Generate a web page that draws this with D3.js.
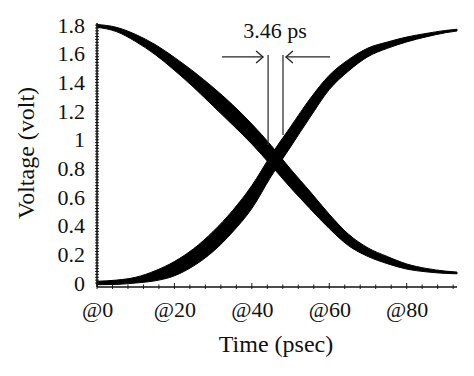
<!DOCTYPE html>
<html>
<head>
<meta charset="utf-8">
<script src="https://cdn.jsdelivr.net/npm/d3@7"></script>
<style>
  body { margin: 0; background: #fff; }
  text { font-family: "Liberation Serif", "DejaVu Serif", serif; fill: #111; }
</style>
</head>
<body>
<div id="chart"></div>
<script>
// time samples (ps)
var times = [0, 5, 10, 15, 20, 25, 30, 35, 40, 45, 50, 55, 60, 65, 70, 75, 80, 85, 90, 93];

// falling output: envelope of the traces (volt)
var fallUpper = [1.805, 1.785, 1.735, 1.665, 1.575, 1.475, 1.365, 1.245, 1.11, 0.96, 0.795, 0.64, 0.48, 0.34, 0.245, 0.185, 0.133, 0.102, 0.083, 0.076];
var fallLower = [1.785, 1.755, 1.685, 1.595, 1.485, 1.365, 1.235, 1.105, 0.97, 0.82, 0.665, 0.52, 0.38, 0.26, 0.185, 0.135, 0.097, 0.078, 0.067, 0.064];

// rising output
var riseUpper = [0.012, 0.02, 0.04, 0.085, 0.15, 0.24, 0.36, 0.505, 0.68, 0.895, 1.09, 1.285, 1.45, 1.56, 1.64, 1.682, 1.717, 1.742, 1.763, 1.771];
var riseLower = [-0.012, -0.01, 0.0, 0.015, 0.05, 0.12, 0.22, 0.355, 0.52, 0.745, 0.95, 1.155, 1.35, 1.48, 1.58, 1.638, 1.683, 1.718, 1.747, 1.759];

var yTicks = [0, 0.2, 0.4, 0.6, 0.8, 1, 1.2, 1.4, 1.6, 1.8];
var xTicks = [0, 20, 40, 60, 80];

// skew annotation
var skewLabel = "3.46 ps";
var skewTimes = [44.2, 48.05];      // the two marker lines
var skewBottoms = [0.964, 1.033];   // where each line meets the curve
var skewTop = 1.592;
var arrowY = 1.578;
var arrowTails = [32.3, 60.2];
var arrowTips = [42.9, 48.8];

var width = 474, height = 376;

var svg = d3.select("#chart")
  .append("svg")
    .attr("width", width)
    .attr("height", height);

var x = d3.scaleLinear()
  .domain([0, 93])
  .range([97, 457]);

var y = d3.scaleLinear()
  .domain([-0.028, 1.815])
  .range([287, 23]);

// bands
var data = times.map(function(t, i) {
  return {t: t, fu: fallUpper[i], fl: fallLower[i], ru: riseUpper[i], rl: riseLower[i]};
});

var fallArea = d3.area()
  .curve(d3.curveMonotoneX)
  .x(function(d) { return x(d.t); })
  .y0(function(d) { return y(d.fl); })
  .y1(function(d) { return y(d.fu); });

var riseArea = d3.area()
  .curve(d3.curveMonotoneX)
  .x(function(d) { return x(d.t); })
  .y0(function(d) { return y(d.rl); })
  .y1(function(d) { return y(d.ru); });

svg.append("path")
  .datum(data)
  .attr("d", fallArea)
  .attr("fill", "#000")
  .attr("stroke", "#000")
  .attr("stroke-width", 1);

svg.append("path")
  .datum(data)
  .attr("d", riseArea)
  .attr("fill", "#000")
  .attr("stroke", "#000")
  .attr("stroke-width", 1);

// Y axis
var yAxis = svg.append("g")
  .attr("transform", "translate(" + x(0) + ",0)")
  .call(d3.axisLeft(y).tickValues(yTicks).tickSize(0).tickPadding(12)
    .tickFormat(function(d) { return d3.format("")(d); }));
yAxis.select(".domain").remove();
yAxis.selectAll("text")
  .style("font-size", "22px")
  .style("font-family", "'Liberation Serif', serif")
  .attr("fill", "#111");

// minor ticks on y axis
svg.append("g")
  .selectAll("line")
  .data(d3.range(0, 91).map(function(i) { return i * 0.02; }))
  .enter()
  .append("line")
    .attr("x1", x(0) - 2)
    .attr("x2", x(0) + 2)
    .attr("y1", function(d) { return y(d); })
    .attr("y2", function(d) { return y(d); })
    .attr("stroke", "#222")
    .attr("stroke-width", 1);

// X axis
var xAxis = svg.append("g")
  .attr("transform", "translate(0," + y(-0.028) + ")")
  .call(d3.axisBottom(x).tickValues(xTicks).tickSize(0).tickPadding(14)
    .tickFormat(function(d) { return "@" + d; }));
xAxis.select(".domain").remove();
xAxis.selectAll("text")
  .style("font-size", "22px")
  .style("font-family", "'Liberation Serif', serif")
  .attr("fill", "#111");

svg.append("g")
  .selectAll("line")
  .data(d3.range(0, 24).map(function(i) { return i * 4; }))
  .enter()
  .append("line")
    .attr("x1", function(d) { return x(d); })
    .attr("x2", function(d) { return x(d); })
    .attr("y1", function(d) { return y(-0.028) - (d % 20 === 0 ? 4 : 2.5); })
    .attr("y2", y(-0.028) + 2)
    .attr("stroke", "#222")
    .attr("stroke-width", 1);

// axis lines
svg.append("line")
  .attr("x1", x(0)).attr("x2", x(0))
  .attr("y1", y(1.815)).attr("y2", y(-0.028))
  .attr("stroke", "#111").attr("stroke-width", 1.6);
svg.append("line")
  .attr("x1", x(0)).attr("x2", x(93))
  .attr("y1", y(-0.028)).attr("y2", y(-0.028))
  .attr("stroke", "#111").attr("stroke-width", 1.6);

// axis titles
svg.append("text")
  .attr("x", 276)
  .attr("y", 352)
  .attr("text-anchor", "middle")
  .style("font-size", "24px")
  .text("Time (psec)");

svg.append("text")
  .attr("transform", "translate(34,153)rotate(-90)")
  .attr("text-anchor", "middle")
  .style("font-size", "24px")
  .text("Voltage (volt)");

// skew annotation
svg.selectAll("skewline")
  .data(skewTimes)
  .enter()
  .append("line")
    .attr("x1", function(d) { return x(d); })
    .attr("x2", function(d) { return x(d); })
    .attr("y1", y(skewTop))
    .attr("y2", function(d, i) { return y(skewBottoms[i]); })
    .attr("stroke", "#333")
    .attr("stroke-width", 1.3);

arrowTails.forEach(function(t, i) {
  var tip = arrowTips[i];
  var dir = tip > t ? 1 : -1;
  svg.append("line")
    .attr("x1", x(t)).attr("x2", x(tip))
    .attr("y1", y(arrowY)).attr("y2", y(arrowY))
    .attr("stroke", "#222").attr("stroke-width", 1.3);
  svg.append("path")
    .attr("d", "M" + (x(tip) - dir * 7) + "," + (y(arrowY) - 6) +
               "L" + x(tip) + "," + y(arrowY) +
               "L" + (x(tip) - dir * 7) + "," + (y(arrowY) + 6))
    .attr("fill", "none")
    .attr("stroke", "#222")
    .attr("stroke-width", 1.3);
});

svg.append("text")
  .attr("x", 275)
  .attr("y", 38)
  .attr("text-anchor", "middle")
  .style("font-size", "22px")
  .text(skewLabel);
</script>
</body>
</html>
